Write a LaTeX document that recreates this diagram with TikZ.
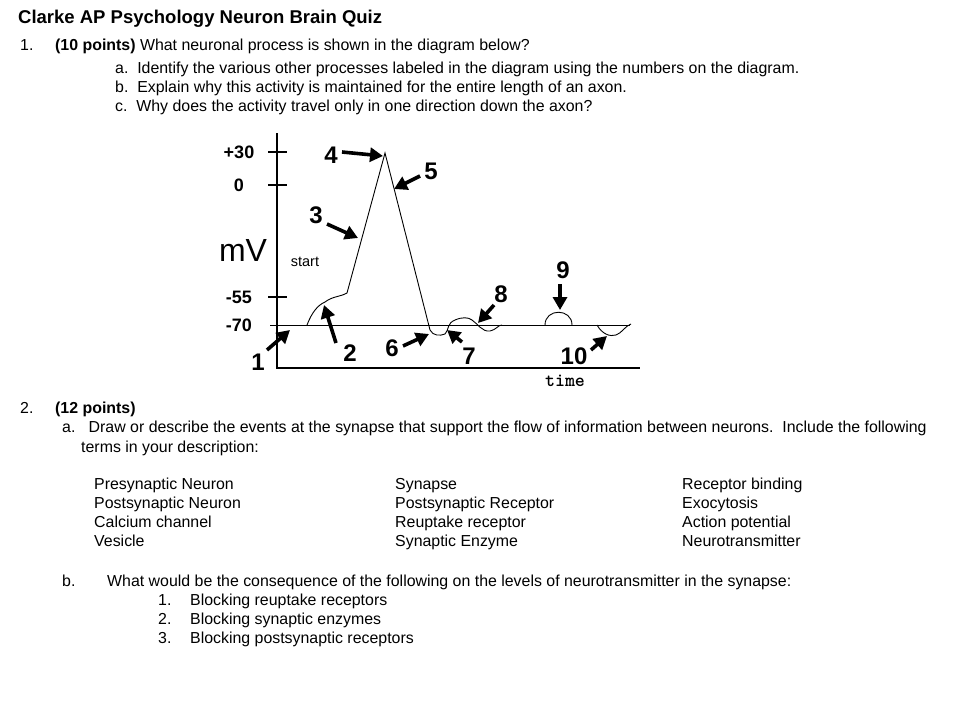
\documentclass[tikz,border=0pt]{standalone}
\usepackage{fontspec}
\setmainfont{Liberation Sans}
\usetikzlibrary{arrows.meta}
\begin{document}
\begin{tikzpicture}[x=1pt,y=-1pt,
  txt/.style={anchor=base west,inner sep=0pt,font=\fontsize{15.9}{18}\selectfont},
  num/.style={inner sep=0pt,font=\fontsize{24}{26}\selectfont\bfseries},
  ax/.style={inner sep=0pt,font=\fontsize{18}{20}\selectfont\bfseries},
  arr/.style={line width=3.6pt,-{Triangle[length=13pt,width=14pt]}},
  plot/.style={line width=0.9pt},
  axis/.style={line width=1.2pt}]
\useasboundingbox (0,0) rectangle (960,720);
% text
\node[txt,font=\fontsize{18.5}{20}\selectfont\bfseries] (t) at (18,23) {Clarke AP Psychology Neuron Brain Quiz};
\node[txt] (q1) at (20,50) {1.};
\node[txt] (q1t) at (55,50) {\textbf{(10 points)} What neuronal process is shown in the diagram below?};
\node[txt] (q1a) at (115,73) {a.\ \ Identify the various other processes labeled in the diagram using the numbers on the diagram.};
\node[txt] (q1b) at (115,92) {b.\ \ Explain why this activity is maintained for the entire length of an axon.};
\node[txt] (q1c) at (115,111) {c.\ \ Why does the activity travel only in one direction down the axon?};
\node[txt] (q2) at (20,413) {2.};
\node[txt] (q2t) at (55,413) {\textbf{(12 points)}};
\node[txt] (q2a) at (62,432) {a.\ \ \ Draw or describe the events at the synapse that support the flow of information between neurons.\ \ Include the following};
\node[txt] (q2a2) at (81,452) {terms in your description:};
\foreach \a/\b/\c [count=\i] in {Presynaptic Neuron/Synapse/Receptor binding,Postsynaptic Neuron/Postsynaptic Receptor/Exocytosis,Calcium channel/Reuptake receptor/Action potential,Vesicle/Synaptic Enzyme/Neurotransmitter}{
  \node[txt] (ca\i) at (94,{483+19.3*(\i-1)+6}) {\a};
  \node[txt] (cb\i) at (395,{483+19.3*(\i-1)+6}) {\b};
  \node[txt] (cc\i) at (682,{483+19.3*(\i-1)+6}) {\c};
}
\node[txt] (q2b) at (62,586) {b.};
\node[txt] (q2bt) at (107,586) {What would be the consequence of the following on the levels of neurotransmitter in the synapse:};
\foreach \t [count=\i] in {Blocking reuptake receptors,Blocking synaptic enzymes,Blocking postsynaptic receptors}{
  \node[txt] (l\i) at (158,{605+19*(\i-1)}) {\i.};
  \node[txt] (lt\i) at (190,{605+19*(\i-1)}) {\t};
}
% axes
\coordinate (o) at (277,368);
\draw[axis] (277,133) -- (o) -- (640,368);
\draw[axis] (268,152) -- (287,152);
\draw[axis] (268,185) -- (287,185);
\draw[axis] (268,297) -- (287,297);
\draw[plot] (270,325) -- (630,325);
\node[ax] (p30) at (239,152) {+30};
\node[ax] (z0) at (239,185) {0};
\node[ax] (m55) at (239,297) {-55};
\node[ax] (m70) at (239,325) {-70};
\node[inner sep=0pt,font=\fontsize{32}{34}\selectfont] (mv) at (243,250) {mV};
\node[inner sep=0pt,font=\fontsize{14.5}{16}\selectfont] (st) at (305,262) {start};
\node[inner sep=0pt,font=\fontsize{19}{21}\ttfamily\bfseries] (tm) at (565,381) {time};
% curve
\draw[plot] (307,325) .. controls (312,312) and (318,305) .. (325,302)
  .. controls (333,296) and (340,297) .. (347,293) -- (385,153) -- (430,330)
  .. controls (433,336) and (440,336) .. (445,334)
  .. controls (449,330) and (447,323) .. (455,320)
  .. controls (462,317) and (468,317) .. (472,320)
  .. controls (478,324) and (482,332) .. (490,331)
  .. controls (496,330) and (498,325) .. (502,325);
\draw[plot] (545,325) .. controls (545,308) and (572,308) .. (572,325);
\draw[plot] (597,325) .. controls (602,334) and (610,337) .. (616,335)
  .. controls (622,333) and (625,326) .. (631,324);
% labels & arrows
\node[num] (n1) at (258,362) {1};
\node[num] (n2) at (350,353) {2};
\node[num] (n3) at (316,215) {3};
\node[num] (n4) at (331,155) {4};
\node[num] (n5) at (431,171) {5};
\node[num] (n6) at (392,348) {6};
\node[num] (n7) at (469,356) {7};
\node[num] (n8) at (501,294) {8};
\node[num] (n9) at (563,270) {9};
\node[num] (n10) at (574,356) {10};
\coordinate (e1) at (290,330); \coordinate (e2) at (324,305);
\coordinate (e3) at (358,238); \coordinate (e4) at (383,156);
\coordinate (e5) at (394,189); \coordinate (e6) at (429,334);
\coordinate (e7) at (447,330); \coordinate (e8) at (478,323);
\coordinate (e9) at (560,310); \coordinate (e10) at (607,336);
\draw[arr] (267,350) -- (e1);
\draw[arr] (336,343) -- (e2);
\draw[arr] (327,224) -- (e3);
\draw[arr] (342,152) -- (e4);
\draw[arr] (420,176) -- (e5);
\draw[arr] (403,346) -- (e6);
\draw[arr] (462,342) -- (e7);
\draw[arr] (494,305) -- (e8);
\draw[arr] (560,284) -- (e9);
\draw[arr] (591,350) -- (e10);
\end{tikzpicture}
\end{document}
